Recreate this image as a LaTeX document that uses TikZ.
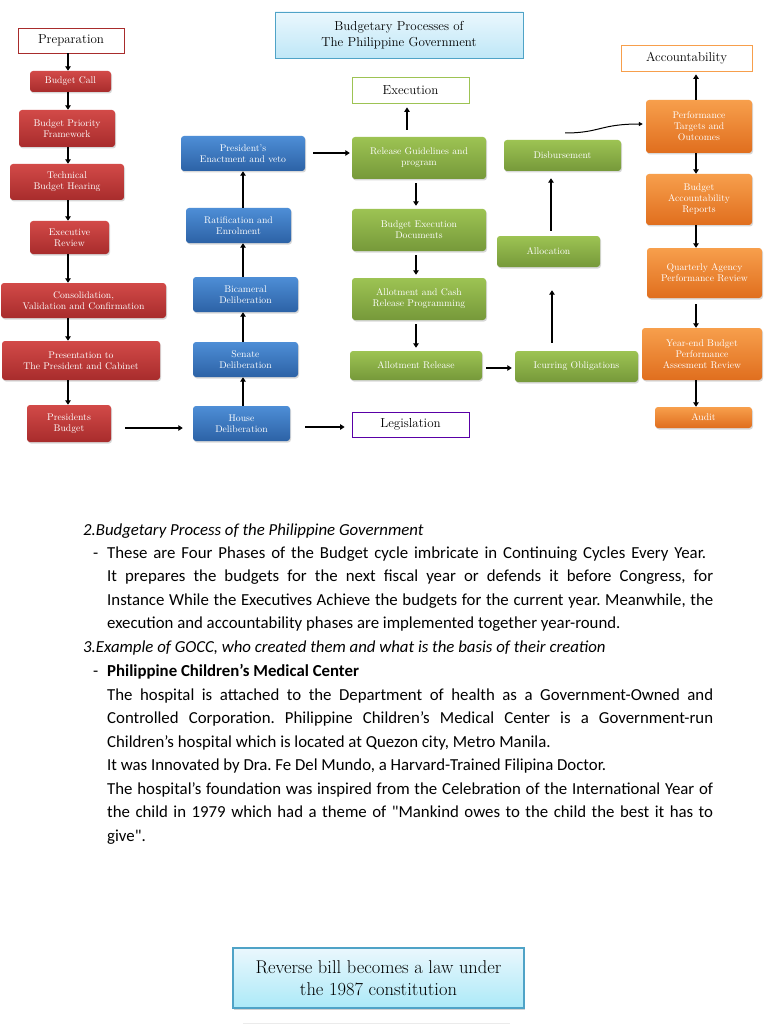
\documentclass[tikz,border=0pt]{standalone}
\usepackage{fontspec}
\newfontfamily\bodyfont{Carlito}
\usetikzlibrary{shadows,arrows.meta}
\frenchspacing
\definecolor{redT}{HTML}{D24A48}
\definecolor{redB}{HTML}{A82C2C}
\definecolor{bluT}{HTML}{4E8ED6}
\definecolor{bluB}{HTML}{2C62A6}
\definecolor{grnT}{HTML}{9DC353}
\definecolor{grnB}{HTML}{76993A}
\definecolor{orgT}{HTML}{F79F4C}
\definecolor{orgB}{HTML}{E06E1E}
\definecolor{ttlT}{HTML}{EAF7FD}
\definecolor{ttlB}{HTML}{BFE7F7}
\definecolor{ttlD}{HTML}{4FA3C7}
\tikzset{
  sz/.style 2 args={minimum width=#1pt, minimum height=#2pt},
  box/.style={rounded corners=3pt, text=white, align=center,
    font=\fontsize{9.7}{11}\selectfont, inner sep=1pt,
    drop shadow={shadow xshift=1pt, shadow yshift=-1.5pt, opacity=0.3}},
  redbox/.style={box, top color=redT, bottom color=redB},
  bluebox/.style={box, top color=bluT, bottom color=bluB},
  greenbox/.style={box, top color=grnT, bottom color=grnB},
  orangebox/.style={box, top color=orgT, bottom color=orgB},
  phase/.style={fill=white, line width=0.8pt, font=\fontsize{13}{15}\selectfont, inner sep=1pt},
  arr/.style={line width=1.5pt, -{Triangle[width=5.5pt,length=4.5pt]}},
  body/.style={font=\bodyfont\fontsize{16.8}{20}\selectfont, inner sep=0pt, anchor=base west},
}
\newcommand{\jl}[1]{\makebox[606pt][s]{#1}}
\begin{document}
\begin{tikzpicture}[x=1pt,y=-1pt]
\useasboundingbox (0,0) rectangle (768,1024);
\fill[white] (0,0) rectangle (768,1024);

% column / row guides
\coordinate (xP) at (68,0);
\coordinate (xL) at (243,0);
\coordinate (xE) at (416,0);
\coordinate (xEu) at (407,0);
\coordinate (xA1) at (552,0);
\coordinate (xA2) at (551,0);
\coordinate (xO) at (696,0);
\coordinate (y428) at (0,428);
\coordinate (y427) at (0,427);
\coordinate (y153) at (0,153);
\coordinate (y368) at (0,368);
\coordinate (y124) at (0,124);

% title
\node[draw=ttlD, line width=0.8pt, top color=ttlT, bottom color=ttlB, align=center,
  font=\fontsize{13}{15.5}\selectfont, sz={248}{46}] (title) at (399,35)
  {Budgetary Processes of\\The Philippine Government};

% Preparation column
\node[phase, draw=redB, sz={106}{25}] (prep) at (71,40.5) {Preparation};
\node[redbox, sz={81}{21}] (call) at (70.5,81.5) {Budget Call};
\node[redbox, sz={96}{37}] (prio) at (67,128.5) {Budget Priority\\Framework};
\node[redbox, sz={114}{36}] (tech) at (67,182) {Technical\\Budget Hearing};
\node[redbox, sz={79}{33}] (exec) at (69.5,237.5) {Executive\\Review};
\node[redbox, sz={165}{35}] (cons) at (83.5,300.5) {Consolidation,\\Validation and Confirmation};
\node[redbox, sz={158}{39}] (pres) at (81,360.5) {Presentation to\\The President and Cabinet};
\node[redbox, sz={84}{37}] (pb) at (69,423.5) {Presidents\\Budget};

\foreach \a/\b in {prep/call,call/prio,prio/tech,tech/exec,exec/cons,cons/pres,pres/pb}{
  \draw[arr] (\a.south -| xP) -- (\b.north -| xP);
}

% Legislation column
\node[bluebox, sz={124}{35}] (enact) at (243,153.5) {President's\\Enactment and veto};
\node[bluebox, sz={105}{35}] (ratif) at (238.5,225.5) {Ratification and\\Enrolment};
\node[bluebox, sz={105}{35}] (bicam) at (245.5,294.5) {Bicameral\\Deliberation};
\node[bluebox, sz={105}{35}] (senate) at (245.5,359.5) {Senate\\Deliberation};
\node[bluebox, sz={97}{35}] (house) at (241.5,423.5) {House\\Deliberation};
\foreach \a/\b in {house/senate,senate/bicam,bicam/ratif,ratif/enact}{
  \draw[arr] (\a.north -| xL) -- (\b.south -| xL);
}
\node[phase, draw=violet!70!blue, sz={117}{25}] (legis) at (410.5,424.5) {Legislation};
\draw[arr, shorten <=14pt, shorten >=10pt] (pb.east |- y428) -- (house.west |- y428);
\draw[arr, shorten <=15pt, shorten >=7pt] (house.east |- y427) -- (legis.west |- y427);

% Execution column
\node[phase, draw=grnT, sz={117}{26}] (execl) at (410.5,90) {Execution};
\node[greenbox, sz={134}{42}] (rel) at (419,158) {Release Guidelines and\\program};
\node[greenbox, sz={134}{42}] (bed) at (419,230) {Budget Execution\\Documents};
\node[greenbox, sz={134}{42}] (acr) at (419,299) {Allotment and Cash\\Release Programming};
\node[greenbox, sz={132}{29}] (ar) at (416,365.5) {Allotment Release};
\draw[arr, shorten <=7pt, shorten >=4pt] (rel.north -| xEu) -- (execl.south -| xEu);
\foreach \a/\b in {rel/bed,bed/acr,acr/ar}{
  \draw[arr, shorten <=4pt, shorten >=3pt] (\a.south -| xE) -- (\b.north -| xE);
}
\draw[arr, shorten <=8pt, shorten >=2pt] (enact.east |- y153) -- (rel.west |- y153);

\node[greenbox, sz={117}{31}] (disb) at (562.5,155.5) {Disbursement};
\node[greenbox, sz={103}{31}] (alloc) at (548.5,251.5) {Allocation};
\node[greenbox, sz={123}{31}] (incur) at (576.5,366.5) {Icurring Obligations};
\draw[arr, shorten <=4pt, shorten >=3pt] (ar.east |- y368) -- (incur.west |- y368);
\draw[arr, shorten <=8pt, shorten >=23pt] (incur.north -| xA1) -- (alloc.south -| xA1);
\draw[arr, shorten <=5pt, shorten >=7pt] (alloc.north -| xA2) -- (disb.south -| xA2);

% Accountability column
\node[phase, draw=orgT, sz={131}{26}] (acc) at (686.5,58) {Accountability};
\node[orangebox, sz={106}{53}] (pto) at (699,126.5) {Performance\\Targets and\\Outcomes};
\node[orangebox, sz={106}{51}] (bar) at (699,199.5) {Budget\\Accountability\\Reports};
\node[orangebox, sz={115}{50}] (qapr) at (704.5,273) {Quarterly Agency\\Performance Review};
\node[orangebox, sz={120}{52}] (ye) at (702,354) {Year-end Budget\\Performance\\Assesment Review};
\node[orangebox, sz={97}{21}] (audit) at (703.5,417.5) {Audit};
\draw[arr, shorten >=3pt] (pto.north -| xO) -- (acc.south -| xO);
\draw[arr] (pto.south -| xO) -- (bar.north -| xO);
\draw[arr] (bar.south -| xO) -- (qapr.north -| xO);
\draw[arr, shorten <=6pt] (qapr.south -| xO) -- (ye.north -| xO);
\draw[arr] (ye.south -| xO) -- (audit.north -| xO);

\coordinate (cstart) at (565,133);
\draw[line width=1pt, -{Triangle[width=4pt,length=4pt]}, shorten >=3pt] (cstart) .. controls (600,133) and (600,124) .. (pto.west |- y124);

% body text
\node[body, font=\bodyfont\itshape\fontsize{16.8}{20}\selectfont] (h2) at (83,535) {2.Budgetary Process of the Philippine Government};
\node[body] (b1) at (93,558) {-};
\node[body] (l2) at (107,558) {\makebox[599pt][s]{These are Four Phases of the Budget cycle imbricate in Continuing Cycles Every Year.}};
\node[body] (l3) at (107,581.5) {\jl{It prepares the budgets for the next fiscal year or defends it before Congress, for}};
\node[body] (l4) at (107,605) {\jl{Instance While the Executives Achieve the budgets for the current year. Meanwhile, the}};
\node[body] (l5) at (107,628.5) {execution and accountability phases are implemented together year-round.};
\node[body, font=\bodyfont\itshape\fontsize{16.8}{20}\selectfont] (h3) at (83,652) {3.Example of GOCC, who created them and what is the basis of their creation};
\node[body] (b2) at (93,676) {-};
\node[body, font=\bodyfont\bfseries\fontsize{16.8}{20}\selectfont] (l7) at (107,676) {Philippine Children’s Medical Center};
\node[body] (l8) at (107,700) {\jl{The hospital is attached to the Department of health as a Government-Owned and}};
\node[body] (l9) at (107,723.5) {\jl{Controlled Corporation. Philippine Children’s Medical Center is a Government-run}};
\node[body] (l10) at (107,747) {Children’s hospital which is located at Quezon city, Metro Manila.};
\node[body] (l11) at (107,770.5) {It was Innovated by Dra. Fe Del Mundo, a Harvard-Trained Filipina Doctor.};
\node[body] (l12) at (107,794) {\jl{The hospital’s foundation was inspired from the Celebration of the International Year of}};
\node[body] (l13) at (107,817.5) {\jl{the child in 1979 which had a theme of "Mankind owes to the child the best it has to}};
\node[body] (l14) at (107,841) {give".};

% bottom box
\node[draw=ttlD, line width=1.2pt, top color=ttlT, bottom color=ttlB!90!cyan, align=center,
  font=\fontsize{18.5}{22}\selectfont, text=black, sz={291}{60},
  drop shadow={shadow xshift=1pt, shadow yshift=-2pt, opacity=0.35}] (law) at (378.5,978)
  {Reverse bill becomes a law under\\the 1987 constitution};
\coordinate (fl1) at (243,1023);
\coordinate (fl2) at (510,1023);
\draw[black!8, line width=0.8pt] (fl1) -- (fl2);
\end{tikzpicture}
\end{document}
